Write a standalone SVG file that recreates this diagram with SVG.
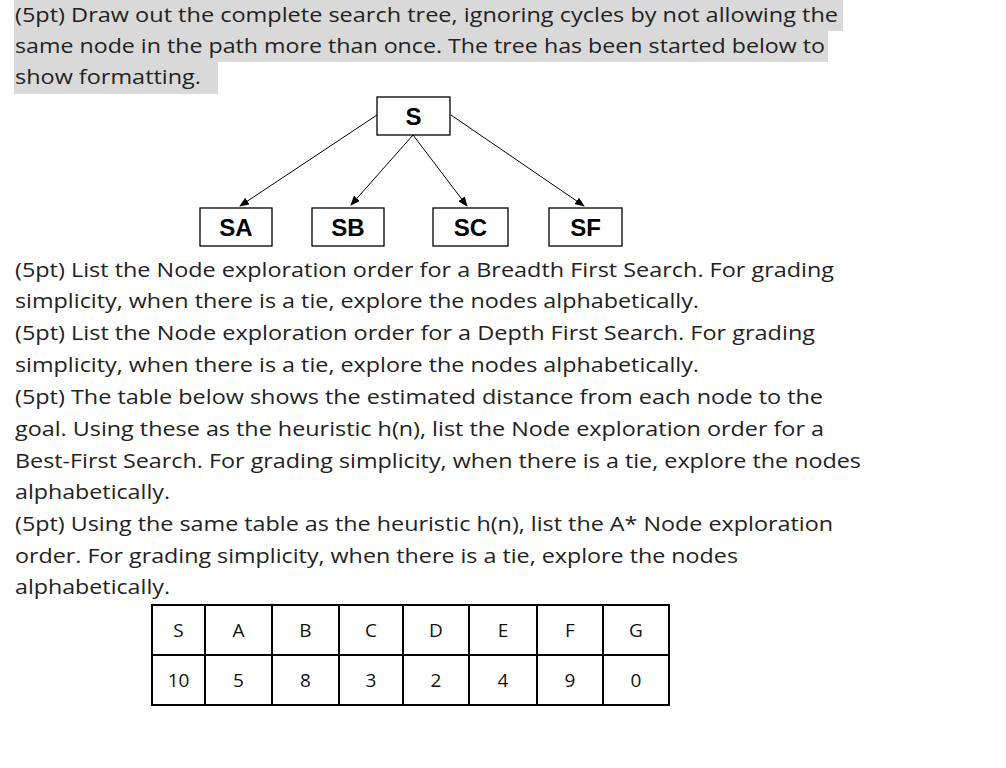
<svg xmlns="http://www.w3.org/2000/svg" width="1006" height="768" viewBox="0 0 1006 768">
<style>
.t{font-family:"Open Sans","DejaVu Sans",sans-serif;font-size:20px;fill:#222}
.n{font-family:"Liberation Sans",Arial,sans-serif;font-size:24px;font-weight:bold;text-anchor:middle}
.b{fill:#fff;stroke:#000;stroke-width:1.3}
.e{stroke:#000;stroke-width:1;marker-end:url(#a)}
.c{font-family:"Open Sans","DejaVu Sans",sans-serif;font-size:19px;text-anchor:middle;fill:#111}
</style>
<defs><marker id="a" markerWidth="10" markerHeight="8" refX="9" refY="4" orient="auto" markerUnits="userSpaceOnUse"><path d="M0,0 L10,4 L0,8 Z"/></marker></defs>
<rect width="1006" height="768" fill="#fff"/>
<rect x="14" y="0" width="829" height="31" fill="#d9d9d9"/>
<rect x="14" y="31" width="814" height="31" fill="#d9d9d9"/>
<rect x="14" y="62" width="204" height="32" fill="#d9d9d9"/>
<g class="t">
<text x="15" y="22" textLength="823" lengthAdjust="spacingAndGlyphs">(5pt) Draw out the complete search tree, ignoring cycles by not allowing the</text>
<text x="15" y="53" textLength="810" lengthAdjust="spacingAndGlyphs">same node in the path more than once. The tree has been started below to</text>
<text x="15" y="84" textLength="186" lengthAdjust="spacingAndGlyphs">show formatting.</text>
<text x="15" y="277" textLength="819" lengthAdjust="spacingAndGlyphs">(5pt) List the Node exploration order for a Breadth First Search. For grading</text>
<text x="15" y="308" textLength="684" lengthAdjust="spacingAndGlyphs">simplicity, when there is a tie, explore the nodes alphabetically.</text>
<text x="15" y="340" textLength="800" lengthAdjust="spacingAndGlyphs">(5pt) List the Node exploration order for a Depth First Search. For grading</text>
<text x="15" y="372" textLength="684" lengthAdjust="spacingAndGlyphs">simplicity, when there is a tie, explore the nodes alphabetically.</text>
<text x="15" y="404" textLength="808" lengthAdjust="spacingAndGlyphs">(5pt) The table below shows the estimated distance from each node to the</text>
<text x="15" y="436" textLength="809" lengthAdjust="spacingAndGlyphs">goal. Using these as the heuristic h(n), list the Node exploration order for a</text>
<text x="15" y="468" textLength="846" lengthAdjust="spacingAndGlyphs">Best-First Search. For grading simplicity, when there is a tie, explore the nodes</text>
<text x="15" y="499" textLength="155" lengthAdjust="spacingAndGlyphs">alphabetically.</text>
<text x="15" y="531" textLength="818" lengthAdjust="spacingAndGlyphs">(5pt) Using the same table as the heuristic h(n), list the A* Node exploration</text>
<text x="15" y="563" textLength="723" lengthAdjust="spacingAndGlyphs">order. For grading simplicity, when there is a tie, explore the nodes</text>
<text x="15" y="594" textLength="155" lengthAdjust="spacingAndGlyphs">alphabetically.</text>
</g>
<g id="edges">
<line class="e" x1="377" y1="115" x2="240" y2="206"/>
<line class="e" x1="413" y1="135" x2="351" y2="205"/>
<line class="e" x1="413" y1="135" x2="467" y2="206"/>
<line class="e" x1="451" y1="115" x2="584" y2="206"/>
</g>
<g id="S"><rect class="b" x="377" y="97" width="73" height="38"/><text class="n" x="413.5" y="125">S</text></g>
<g id="SA"><rect class="b" x="200" y="208" width="72" height="38"/><text class="n" x="236" y="236">SA</text></g>
<g id="SB"><rect class="b" x="312" y="208" width="72" height="38"/><text class="n" x="348" y="236">SB</text></g>
<g id="SC"><rect class="b" x="433" y="208" width="75" height="38"/><text class="n" x="470.5" y="236">SC</text></g>
<g id="SF"><rect class="b" x="549" y="208" width="73" height="38"/><text class="n" x="585.5" y="236">SF</text></g>
<g id="table" stroke="#000" stroke-width="2" fill="none">
<rect x="152" y="605" width="517" height="100"/>
<line x1="152" y1="655" x2="669" y2="655"/>
<line x1="205" y1="605" x2="205" y2="705"/>
<line x1="272" y1="605" x2="272" y2="705"/>
<line x1="339" y1="605" x2="339" y2="705"/>
<line x1="403" y1="605" x2="403" y2="705"/>
<line x1="469" y1="605" x2="469" y2="705"/>
<line x1="537" y1="605" x2="537" y2="705"/>
<line x1="603" y1="605" x2="603" y2="705"/>
</g>
<g class="c">
<text x="178.5" y="637">S</text><text x="238.5" y="637">A</text><text x="305.5" y="637">B</text><text x="371" y="637">C</text><text x="436" y="637">D</text><text x="503" y="637">E</text><text x="570" y="637">F</text><text x="636" y="637">G</text>
<text x="178.5" y="687">10</text><text x="238.5" y="687">5</text><text x="305.5" y="687">8</text><text x="371" y="687">3</text><text x="436" y="687">2</text><text x="503" y="687">4</text><text x="570" y="687">9</text><text x="636" y="687">0</text>
</g>
</svg>
